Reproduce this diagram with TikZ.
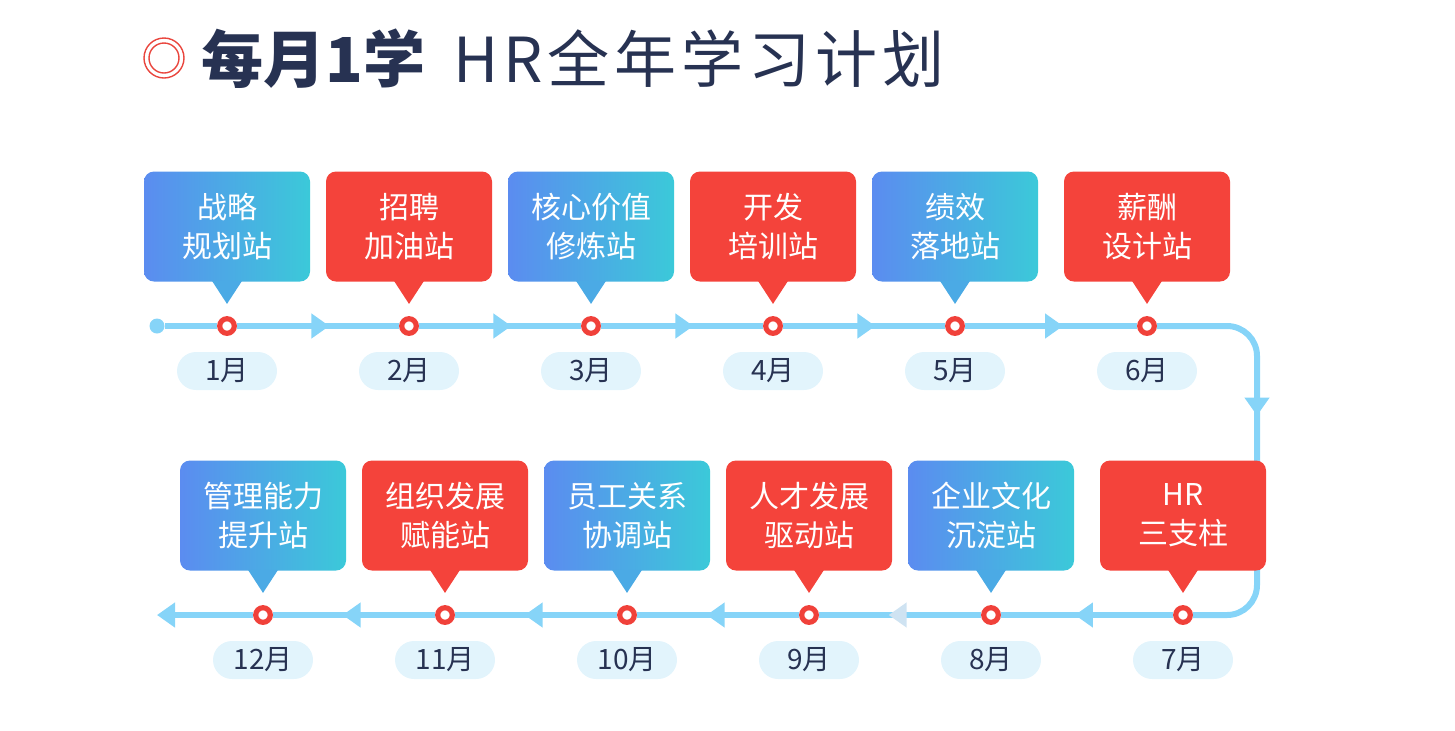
\documentclass[tikz,border=0pt]{standalone}
\usepackage{fontspec}
\setmainfont{Noto Sans CJK SC}
\usepackage{tikz}
\usetikzlibrary{arrows.meta,decorations.markings}
\definecolor{tlblue}{HTML}{86D4F8}
\definecolor{tlfade}{HTML}{CFE3F2}
\definecolor{boxred}{HTML}{F4433B}
\definecolor{boxblueL}{HTML}{5B8CF0}
\definecolor{boxblueR}{HTML}{3BC9D9}
\definecolor{dotred}{HTML}{F0413A}
\definecolor{pillbg}{HTML}{E2F4FC}
\definecolor{navy}{HTML}{273252}
\definecolor{ringred}{HTML}{E9453D}
\pgfdeclarelayer{background}
\pgfsetlayers{background,main}

\begin{document}
\begin{tikzpicture}[x=0.5pt, y=-0.5pt, node distance=91pt,
    station/.style={rectangle, rounded corners=5pt, minimum width=83pt, minimum height=55pt, text=white, align=center, font=\fontsize{15pt}{19.5pt}\selectfont, node distance=49.75pt},
    bluebox/.style={station, left color=boxblueL, right color=boxblueR},
    redbox/.style={station, fill=boxred},
    bluetip/.style={fill=boxblueL!50!boxblueR},
    redtip/.style={fill=boxred},
    dot/.style={circle, draw=dotred, line width=2.6pt, fill=white, minimum size=7.3pt, inner sep=0pt},
    month/.style={rectangle, rounded corners=9.5pt, fill=pillbg, minimum width=50pt, minimum height=19pt, text=navy, font=\fontsize{14pt}{16pt}\selectfont, node distance=22.5pt},
    tline/.style={draw, tlblue, line width=3pt},
    midarrow/.style={postaction={decorate, decoration={markings, mark=at position #1 with {\arrow{Triangle[length=9pt,width=12pt,color=tlblue]}}}}},
    fadearrow/.style={postaction={decorate, decoration={markings, mark=at position #1 with {\arrow{Triangle[length=9pt,width=12pt,color=tlfade]}}}}},
    fwd/.style={tline, midarrow=0.57}]
  \useasboundingbox (0,0) rectangle (1455,730);

  % title
  \node[circle, draw=ringred, line width=0.7pt, minimum size=20pt, inner sep=0pt] (logo) at (164,58) {};
  \node[circle, draw=ringred, line width=0.7pt, minimum size=15pt, inner sep=0pt] (logoin) at (logo) {};
  \node[anchor=west, text=navy, inner sep=0pt, font=\fontsize{31pt}{36pt}\selectfont] (title) at (201,59) {{\bfseries 每月1学}\hspace{14pt}{\addfontfeature{LetterSpace=8}HR全年学习计划}};

  % months on the timeline
  \node[circle, fill=tlblue, minimum size=7.5pt, inner sep=0pt] (start) at (157,326) {};
  \node[dot] (dot1) at (227,326) {};
  \node[dot, right of=dot1] (dot2) {};
  \node[dot, right of=dot2] (dot3) {};
  \node[dot, right of=dot3] (dot4) {};
  \node[dot, right of=dot4] (dot5) {};
  \node[dot, node distance=96pt, right of=dot5] (dot6) {};
  \node[dot] (dot7) at (1183,615) {};
  \node[dot, node distance=96pt, left of=dot7] (dot8) {};
  \node[dot, left of=dot8] (dot9) {};
  \node[dot, left of=dot9] (dot10) {};
  \node[dot, left of=dot10] (dot11) {};
  \node[dot, left of=dot11] (dot12) {};
  \coordinate (ne) at (1257,326);
  \coordinate (se) at (1257,615);
  \coordinate (fin) at (157,615);

  \node[month, below of=dot1] (mon1) {1月};
  \node[month, below of=dot2] (mon2) {2月};
  \node[month, below of=dot3] (mon3) {3月};
  \node[month, below of=dot4] (mon4) {4月};
  \node[month, below of=dot5] (mon5) {5月};
  \node[month, below of=dot6] (mon6) {6月};
  \node[month, below of=dot7] (mon7) {7月};
  \node[month, below of=dot8] (mon8) {8月};
  \node[month, below of=dot9] (mon9) {9月};
  \node[month, below of=dot10] (mon10) {10月};
  \node[month, below of=dot11] (mon11) {11月};
  \node[month, below of=dot12] (mon12) {12月};

  % stations
  \node[bluebox, above of=dot1] (box1) {战略\\规划站};
  \node[redbox, above of=dot2] (box2) {招聘\\加油站};
  \node[bluebox, above of=dot3] (box3) {核心价值\\修炼站};
  \node[redbox, above of=dot4] (box4) {开发\\培训站};
  \node[bluebox, above of=dot5] (box5) {绩效\\落地站};
  \node[redbox, above of=dot6] (box6) {薪酬\\设计站};
  \node[redbox, above of=dot7] (box7) {HR\\三支柱};
  \node[bluebox, above of=dot8] (box8) {企业文化\\沉淀站};
  \node[redbox, above of=dot9] (box9) {人才发展\\驱动站};
  \node[bluebox, above of=dot10] (box10) {员工关系\\协调站};
  \node[redbox, above of=dot11] (box11) {组织发展\\赋能站};
  \node[bluebox, above of=dot12] (box12) {管理能力\\提升站};

  \fill[bluetip] ([xshift=-7.5pt,yshift=0.5pt]box1.south) -- ([yshift=-11pt]box1.south) -- ([xshift=7.5pt,yshift=0.5pt]box1.south) -- cycle;
  \fill[redtip] ([xshift=-7.5pt,yshift=0.5pt]box2.south) -- ([yshift=-11pt]box2.south) -- ([xshift=7.5pt,yshift=0.5pt]box2.south) -- cycle;
  \fill[bluetip] ([xshift=-7.5pt,yshift=0.5pt]box3.south) -- ([yshift=-11pt]box3.south) -- ([xshift=7.5pt,yshift=0.5pt]box3.south) -- cycle;
  \fill[redtip] ([xshift=-7.5pt,yshift=0.5pt]box4.south) -- ([yshift=-11pt]box4.south) -- ([xshift=7.5pt,yshift=0.5pt]box4.south) -- cycle;
  \fill[bluetip] ([xshift=-7.5pt,yshift=0.5pt]box5.south) -- ([yshift=-11pt]box5.south) -- ([xshift=7.5pt,yshift=0.5pt]box5.south) -- cycle;
  \fill[redtip] ([xshift=-7.5pt,yshift=0.5pt]box6.south) -- ([yshift=-11pt]box6.south) -- ([xshift=7.5pt,yshift=0.5pt]box6.south) -- cycle;
  \fill[redtip] ([xshift=-7.5pt,yshift=0.5pt]box7.south) -- ([yshift=-11pt]box7.south) -- ([xshift=7.5pt,yshift=0.5pt]box7.south) -- cycle;
  \fill[bluetip] ([xshift=-7.5pt,yshift=0.5pt]box8.south) -- ([yshift=-11pt]box8.south) -- ([xshift=7.5pt,yshift=0.5pt]box8.south) -- cycle;
  \fill[redtip] ([xshift=-7.5pt,yshift=0.5pt]box9.south) -- ([yshift=-11pt]box9.south) -- ([xshift=7.5pt,yshift=0.5pt]box9.south) -- cycle;
  \fill[bluetip] ([xshift=-7.5pt,yshift=0.5pt]box10.south) -- ([yshift=-11pt]box10.south) -- ([xshift=7.5pt,yshift=0.5pt]box10.south) -- cycle;
  \fill[redtip] ([xshift=-7.5pt,yshift=0.5pt]box11.south) -- ([yshift=-11pt]box11.south) -- ([xshift=7.5pt,yshift=0.5pt]box11.south) -- cycle;
  \fill[bluetip] ([xshift=-7.5pt,yshift=0.5pt]box12.south) -- ([yshift=-11pt]box12.south) -- ([xshift=7.5pt,yshift=0.5pt]box12.south) -- cycle;

  % timeline
  \begin{pgfonlayer}{background}
    \draw[tline] (start) -- (dot1);
    \draw[fwd] (dot1) -- (dot2);
    \draw[fwd] (dot2) -- (dot3);
    \draw[fwd] (dot3) -- (dot4);
    \draw[fwd] (dot4) -- (dot5);
    \draw[fwd] (dot5) -- (dot6);
    \draw[tline, rounded corners=15pt, midarrow=88.4pt] (dot6) -- (ne) -- (se) -- (dot7);
    \draw[fwd] (dot7) -- (dot8);
    \draw[tline, fadearrow=0.57] (dot8) -- (dot9);
    \draw[fwd] (dot9) -- (dot10);
    \draw[fwd] (dot10) -- (dot11);
    \draw[fwd] (dot11) -- (dot12);
    \draw[tline, -{Triangle[length=9pt,width=12pt]}] (dot12) -- (fin);
  \end{pgfonlayer}
\end{tikzpicture}
\end{document}
